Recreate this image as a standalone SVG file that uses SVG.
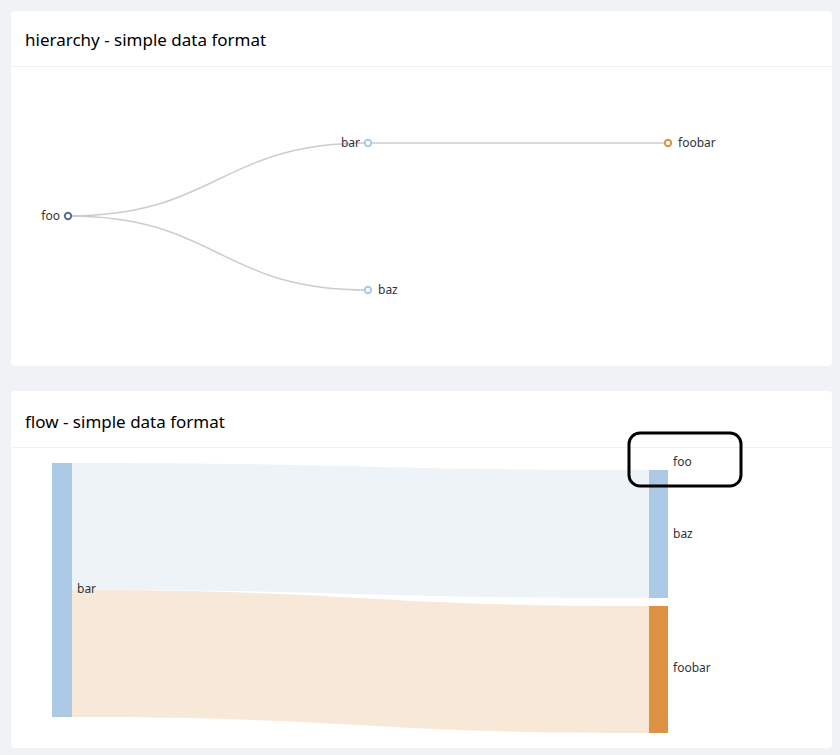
<svg xmlns="http://www.w3.org/2000/svg" width="840" height="755" viewBox="0 0 840 755">
<style>
.card{fill:#ffffff;}
.sep{stroke:#f0f0f0;stroke-width:1;}
.title{font-family:"Noto Sans","Liberation Sans",sans-serif;font-size:17px;font-weight:normal;fill:#000000;}
.lbl{font-family:"Noto Sans","Liberation Sans",sans-serif;font-size:12px;fill:#333333;}
.tlink{fill:none;stroke:#cccccc;stroke-width:1.5;}
.tnode{fill:#ffffff;stroke-width:2;}
</style>
<rect x="0" y="0" width="840" height="755" fill="#f0f2f5"/>
<g id="card-hierarchy">
<rect class="card" x="11" y="11" width="821" height="355" rx="4"/>
<line class="sep" x1="11" y1="66.5" x2="832" y2="66.5"/>
<text class="title" x="25" y="46">hierarchy - simple data format</text>
</g>
<g id="card-flow">
<rect class="card" x="11" y="391" width="821" height="357" rx="4"/>
<line class="sep" x1="11" y1="447.5" x2="832" y2="447.5"/>
<text class="title" x="25" y="428">flow - simple data format</text>
</g>
<g id="tree-connectors">
<path class="tlink" d="M68,216 C218,216 218,143 368,143"/>
<path class="tlink" d="M68,216 C218,216 218,290 368,290"/>
<path class="tlink" d="M368,143 L668,143"/>
</g>
<g id="tree-foo">
<circle class="tnode" cx="68" cy="216" r="3.2" stroke="#5470a0"/>
<text class="lbl" x="60" y="220" text-anchor="end">foo</text>
</g>
<g id="tree-bar">
<circle class="tnode" cx="368" cy="143" r="3.2" stroke="#a9c8e6"/>
<text class="lbl" x="360" y="147" text-anchor="end">bar</text>
</g>
<g id="tree-baz">
<circle class="tnode" cx="368" cy="290" r="3.2" stroke="#a9c8e6"/>
<text class="lbl" x="378" y="294">baz</text>
</g>
<g id="tree-foobar">
<circle class="tnode" cx="668" cy="143" r="3.2" stroke="#dd9143"/>
<text class="lbl" x="678" y="147">foobar</text>
</g>
<g id="sankey-connectors">
<path d="M72,463 C360,463 360,470 649,470 L649,598 C360,598 360,590 72,590 Z" fill="#eef3f8"/>
<path d="M72,590 C360,590 360,606 649,606 L649,733 C360,733 360,717 72,717 Z" fill="#f8e8d8"/>
</g>
<g id="sankey-bar">
<rect x="52" y="463" width="20" height="254" fill="#abc9e4"/>
<text class="lbl" x="77" y="593">bar</text>
</g>
<g id="sankey-foo">
<text class="lbl" x="673" y="466">foo</text>
</g>
<g id="sankey-baz">
<rect x="649" y="470" width="19" height="128" fill="#abc9e4"/>
<text class="lbl" x="673" y="538">baz</text>
</g>
<g id="sankey-foobar">
<rect x="649" y="606" width="19" height="127" fill="#dd9143"/>
<text class="lbl" x="673" y="672">foobar</text>
</g>
<g id="annotation">
<rect x="629" y="433" width="112" height="53" rx="11" fill="none" stroke="#000000" stroke-width="3"/>
</g>
</svg>
